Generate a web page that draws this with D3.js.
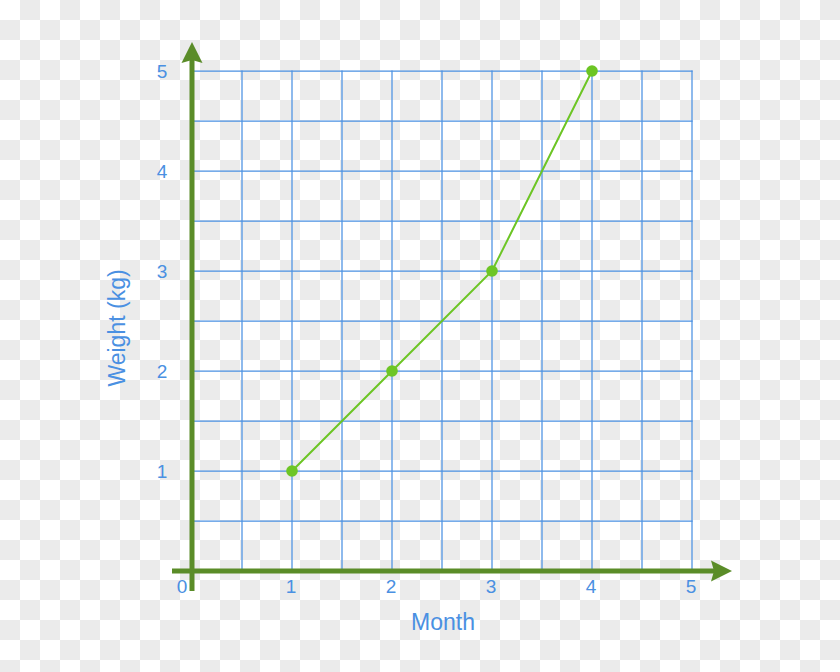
<!DOCTYPE html>
<html>
<head>
<meta charset="utf-8">
<script src="https://cdn.jsdelivr.net/npm/d3@7"></script>
<style>
  html, body { margin: 0; padding: 0; background: #fff; }
  svg { display: block; }
</style>
</head>
<body>
<script>
// Data
const months = [1, 2, 3, 4];
const weights = [1, 2, 3, 5];
const xTicks = [0, 1, 2, 3, 4, 5];
const yTicks = [1, 2, 3, 4, 5];
const xLabel = "Month";
const yLabel = "Weight (kg)";

const W = 840, H = 672;
const blue = "#4a90e2";
const axisGreen = "#5a8c28";
const lineGreen = "#6cc524";

const svg = d3.select("body").append("svg").attr("width", W).attr("height", H);

// checkerboard background
const defs = svg.append("defs");
const pat = defs.append("pattern").attr("id", "checker")
  .attr("width", 40).attr("height", 40).attr("patternUnits", "userSpaceOnUse");
pat.append("rect").attr("width", 40).attr("height", 40).attr("fill", "#ffffff");
pat.append("rect").attr("x", 20).attr("y", 0).attr("width", 20).attr("height", 20).attr("fill", "#ebebeb");
pat.append("rect").attr("x", 0).attr("y", 20).attr("width", 20).attr("height", 20).attr("fill", "#ebebeb");
svg.append("rect").attr("width", W).attr("height", H).attr("fill", "url(#checker)");

const x = d3.scaleLinear().domain([0, 5]).range([192, 692]);
const y = d3.scaleLinear().domain([0, 5]).range([571, 71]);

// grid lines every 0.5
const gridVals = d3.range(1, 11).map(d => d / 2);
const grid = svg.append("g").attr("stroke", blue).attr("stroke-width", 1.25);
grid.selectAll("line.v").data(gridVals).join("line").attr("class", "v")
  .attr("x1", d => x(d)).attr("x2", d => x(d))
  .attr("y1", y(0)).attr("y2", y(5) - 0.6);
grid.selectAll("line.h").data(gridVals).join("line").attr("class", "h")
  .attr("x1", x(0)).attr("x2", x(5) + 0.6)
  .attr("y1", d => y(d)).attr("y2", d => y(d));

// axes with arrows
const ax = svg.append("g");
ax.append("line").attr("x1", x(-0.2)).attr("x2", x(5.25)).attr("y1", y(0)).attr("y2", y(0))
  .attr("stroke", axisGreen).attr("stroke-width", 5);
ax.append("line").attr("x1", x(0)).attr("x2", x(0)).attr("y1", y(-0.2)).attr("y2", y(5.15))
  .attr("stroke", axisGreen).attr("stroke-width", 5);
// arrowheads
const tipX = x(5.4), baseX = x(5.19);
ax.append("path").attr("d", `M${tipX},${y(0)} L${baseX},${y(0) - 10.5} L${baseX + 3},${y(0)} L${baseX},${y(0) + 10.5} Z`)
  .attr("fill", axisGreen);
const tipY = y(5.29), baseY = y(5.08);
ax.append("path").attr("d", `M${x(0)},${tipY} L${x(0) - 10.5},${baseY} L${x(0)},${baseY - 3} L${x(0) + 10.5},${baseY} Z`)
  .attr("fill", axisGreen);

// tick labels
const font = "Helvetica, Arial, 'Liberation Sans', sans-serif";
svg.append("g").selectAll("text").data(xTicks).join("text")
  .attr("x", d => x(d) + (d === 0 ? -10 : -1)).attr("y", y(0) + 15)
  .attr("text-anchor", "middle").attr("dominant-baseline", "central")
  .attr("font-family", font).attr("font-size", 19).attr("fill", blue)
  .text(d => d);
svg.append("g").selectAll("text").data(yTicks).join("text")
  .attr("x", x(0) - 30).attr("y", d => y(d))
  .attr("text-anchor", "middle").attr("dominant-baseline", "central")
  .attr("font-family", font).attr("font-size", 19).attr("fill", blue)
  .text(d => d);

// axis titles
svg.append("text").attr("x", 443).attr("y", 630)
  .attr("text-anchor", "middle").attr("font-family", font).attr("font-size", 23).attr("fill", blue)
  .text(xLabel);
svg.append("text").attr("transform", "translate(125,328) rotate(-90)")
  .attr("text-anchor", "middle").attr("font-family", font).attr("font-size", 23).attr("fill", blue)
  .text(yLabel);

// data line
const pts = months.map((m, i) => [m, weights[i]]);
svg.append("path").datum(pts)
  .attr("d", d3.line().x(d => x(d[0])).y(d => y(d[1])))
  .attr("fill", "none").attr("stroke", lineGreen).attr("stroke-width", 2);
svg.append("g").selectAll("circle").data(pts).join("circle")
  .attr("cx", d => x(d[0])).attr("cy", d => y(d[1])).attr("r", 5.8)
  .attr("fill", lineGreen);
</script>
</body>
</html>
